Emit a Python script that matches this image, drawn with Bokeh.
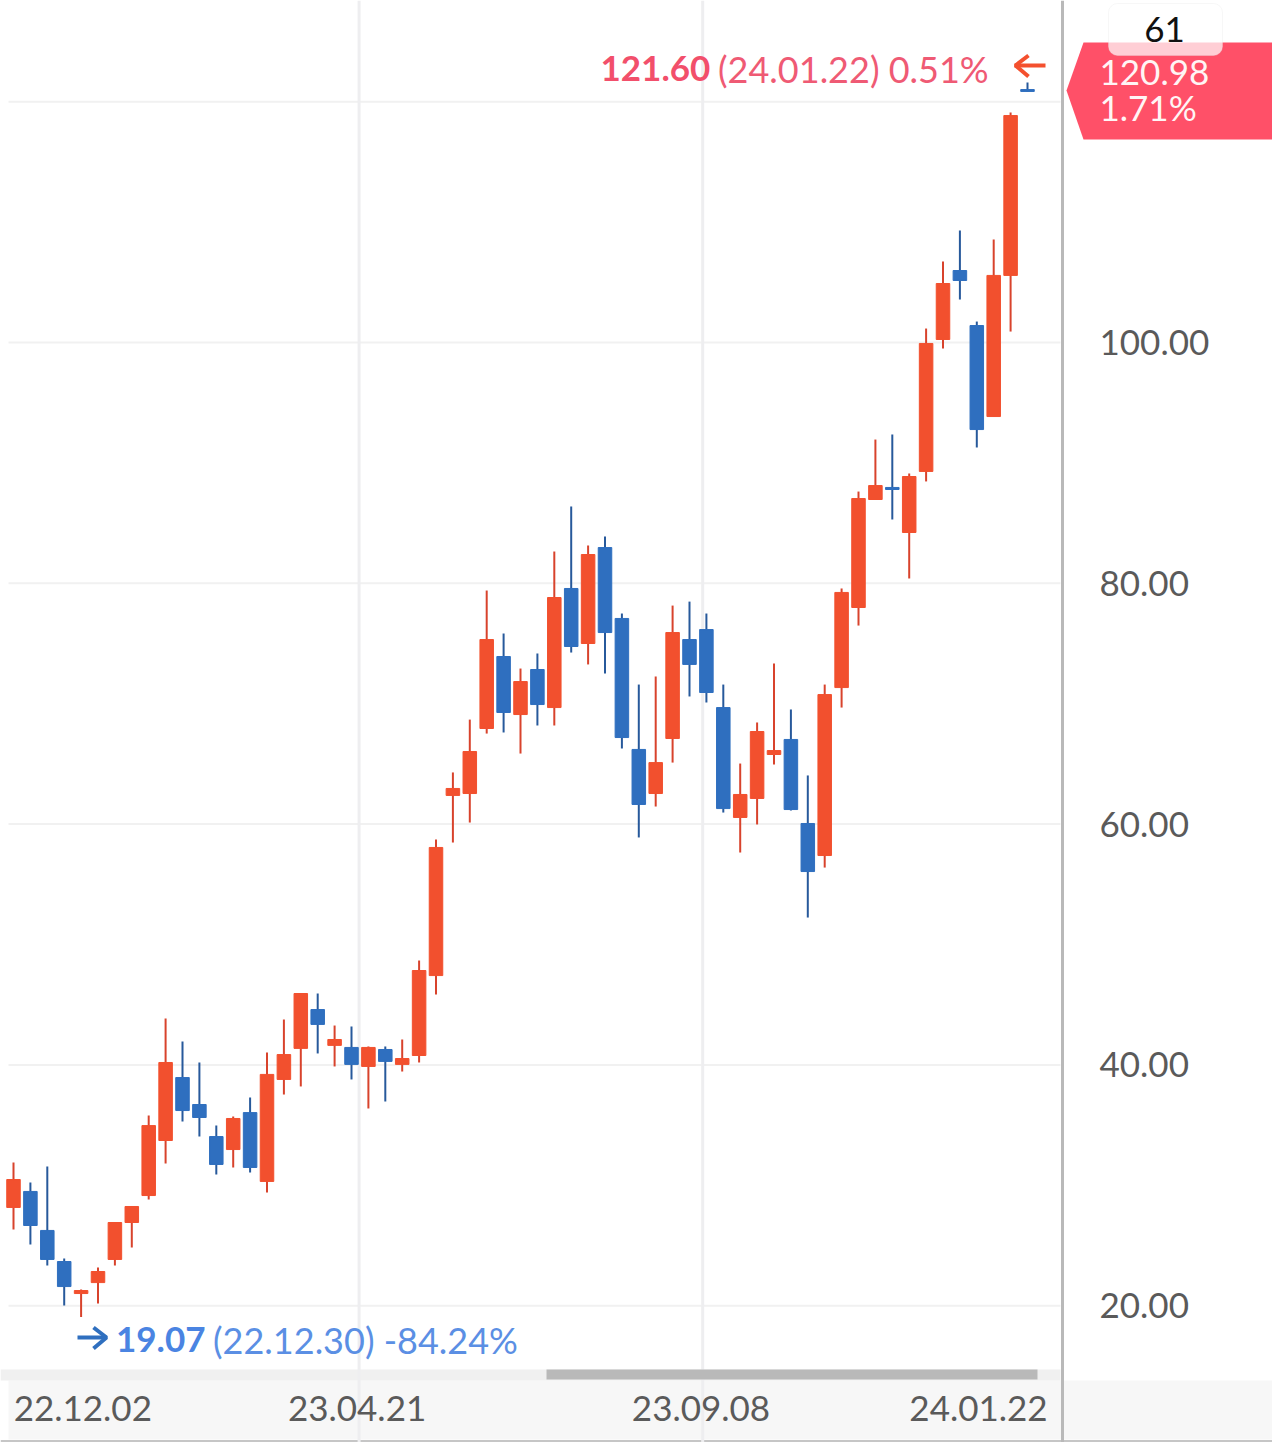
from bokeh.embed import file_html
from bokeh.resources import INLINE
from bokeh.plotting import figure
from bokeh.models import (ColumnDataSource, Label, BoxAnnotation, FixedTicker)

# ---- data ----
opens = [28.16,29.49,26.25,23.67,21.01,21.92,23.84,26.91,29.15,33.72,38.95,36.71,34.05,32.97,36.04,30.32,
         38.79,41.37,44.60,41.62,41.45,39.87,41.28,40.04,40.78,47.42,62.38,62.54,67.94,73.92,69.10,72.84,
         69.68,79.57,75.00,82.97,77.08,66.20,62.54,67.11,75.33,76.16,69.68,60.55,62.13,65.78,67.03,60.05,
         57.39,71.34,77.99,86.96,87.96,84.22,89.29,100.25,105.98,101.41,93.85,105.57,121.01]
highs = [31.90,30.23,31.56,23.92,21.34,23.17,26.95,28.24,35.79,43.85,41.94,40.20,34.96,35.71,37.29,41.03,
         43.77,45.93,45.93,43.27,43.19,41.53,41.53,42.11,48.67,58.72,64.29,68.68,79.40,75.83,72.92,74.17,
         82.64,86.38,83.14,83.89,77.49,71.59,72.26,78.15,78.48,77.49,71.59,65.03,68.44,73.34,69.52,64.04,
         71.59,79.57,87.62,91.94,92.36,89.12,101.16,106.73,109.30,101.74,108.55,119.10,121.60]
lows = [26.33,25.09,23.34,20.01,19.07,20.18,23.34,24.84,28.82,31.81,35.30,34.05,30.90,31.48,31.07,29.40,
        37.54,38.21,40.95,39.87,38.79,36.38,36.96,39.45,40.20,45.85,58.47,60.13,67.52,67.61,65.86,68.19,
        68.19,74.25,73.26,72.51,66.28,58.89,61.46,65.11,70.60,70.10,60.96,57.64,59.97,64.95,61.13,52.24,
        56.39,69.68,76.49,86.96,85.30,80.40,88.46,99.50,103.57,91.28,93.85,100.91,120.85]
closes = [30.48,26.66,23.84,21.59,21.26,22.84,26.91,28.24,34.96,40.20,36.21,35.63,31.73,35.55,31.48,39.21,
          40.86,45.93,43.36,42.11,40.04,41.45,40.29,40.53,47.84,58.06,62.96,66.03,75.33,69.27,71.84,69.93,
          78.82,74.75,82.39,75.91,67.19,61.63,65.11,75.91,73.26,70.93,61.29,62.46,67.69,66.11,61.21,56.06,
          70.76,79.24,87.04,88.12,87.79,88.87,99.92,104.90,105.15,92.77,105.57,118.85,120.85]
price_ticks = [20, 40, 60, 80, 100, 120]
price_labels = ["20.00", "40.00", "60.00", "80.00", "100.00"]
date_ticks = [4.1, 20.33, 40.68, 57.1]
date_labels = ["22.12.02", "23.04.21", "23.09.08", "24.01.22"]
vlines = [20.45, 40.78]

RED, BLUE = "#f2502e", "#2f6fbf"
RED_W, BLUE_W = "#d8432c", "#27599b"
FONT = "Lato"
W, H = 1272, 1442

# picture pixel <-> data helpers, for furniture only
def X(px): return (px - 13) / 16.9
def Y(py): return 100 + (342 - py) / 12.04

p = figure(width=W, height=H, output_backend="svg", toolbar_location=None,
           x_range=(X(0), X(W)), y_range=(Y(H), Y(0)),
           y_axis_location="right", x_axis_location="below",
           min_border=0, min_border_left=0, min_border_right=0, min_border_top=0, min_border_bottom=0,
           outline_line_color=None, background_fill_color="white", border_fill_color="white")
p.grid.visible = False

# bottom strip
p.quad(left=X(8), right=X(W), bottom=Y(1439), top=Y(1380), fill_color="#f7f7f7", line_color=None)
p.quad(left=X(0), right=X(1060), bottom=Y(1380), top=Y(1369), fill_color="#f0f0f0", line_color=None)
p.segment(x0=X(0), x1=X(W), y0=Y(1441), y1=Y(1441), line_color="#c6c6c6", line_width=3)

# grid
for t in price_ticks:
    p.segment(x0=X(8), x1=X(1060), y0=t, y1=t, line_color="#f1f1f1", line_width=2)
for v in vlines:
    p.segment(x0=v, x1=v, y0=Y(0), y1=Y(H), line_color="#eeeef0", line_width=3)

# scrollbar thumb
p.quad(left=X(546), right=X(1037), bottom=Y(1379), top=Y(1369), fill_color="#b9b9b9", line_color=None)

# candles
up = [c > o for o, c in zip(opens, closes)]
src = ColumnDataSource(dict(
    x=list(range(len(opens))),
    high=highs, low=lows,
    top=[max(o, c) for o, c in zip(opens, closes)],
    bottom=[min(o, c) for o, c in zip(opens, closes)],
    body=[RED if u else BLUE for u in up],
    wick=[RED_W if u else BLUE_W for u in up],
))
p.segment(x0="x", x1="x", y0="low", y1="high", line_color="wick", line_width=2, source=src)
p.vbar(x="x", width=0.8, top="top", bottom="bottom", fill_color="body", line_color="body", line_width=1, source=src)

# arrows
p.multi_line(xs=[[X(1014), X(1045)], [X(1028), X(1015), X(1028)]],
             ys=[[Y(65), Y(65)], [Y(55), Y(65), Y(76)]], line_color="#f4502e", line_width=4)
p.multi_line(xs=[[X(77), X(106)], [X(93), X(106), X(93)]],
             ys=[[Y(1337), Y(1337)], [Y(1327), Y(1337), Y(1348)]], line_color="#2f6fbf", line_width=4)

# price tag
p.patch(x=[X(1066), X(1083), X(W), X(W), X(1083)],
        y=[Y(90), Y(42), Y(42), Y(139), Y(139)], fill_color="#ff5068", line_color=None)

def txt(x, y, s, color, size=36, bold=False, align="left"):
    p.add_layout(Label(x=X(x), y=Y(y), text=s, text_color=color, text_font=FONT,
                       text_font_size=f"{size}px", text_font_style="bold" if bold else "normal",
                       text_baseline="middle", text_align=align))

txt(1099, 72, "120.98", "#fff5f5", size=35)
txt(1099, 106, "1.71%", "#fff5f5", size=35)
p.add_layout(BoxAnnotation(left=X(1108), right=X(1222), top=Y(3), bottom=Y(55),
                           fill_color="white", fill_alpha=0.72, line_color="#e6e6e6",
                           line_width=1, border_radius=9))
txt(1164, 29, "61", "#111111", size=35, align="center")

txt(600, 68, "121.60", "#f24f6b", size=35, bold=True)
txt(717.5, 68, "(24.01.22) 0.51%", "#ef5a74")
txt(115.5, 1339, "19.07", "#4a84e2", size=35, bold=True)
txt(212.5, 1339, "(22.12.30) -84.24%", "#5b8fe4")

# axes
ya = p.yaxis[0]
ya.fixed_location = X(1062)
ya.ticker = FixedTicker(ticks=price_ticks[:-1])
ya.major_label_overrides = {t: l for t, l in zip(price_ticks, price_labels)}
ya.axis_line_color = "#b9b9b9"
ya.axis_line_width = 3
ya.major_tick_line_color = None
ya.minor_tick_line_color = None
ya.major_label_standoff = 31
ya.major_label_text_font = FONT
ya.major_label_text_font_size = "35px"
ya.major_label_text_color = "#5a5a5a"

xa = p.xaxis[0]
xa.fixed_location = Y(1385)
xa.ticker = FixedTicker(ticks=date_ticks)
xa.major_label_overrides = {t: l for t, l in zip(date_ticks, date_labels)}
xa.axis_line_color = None
xa.major_tick_line_color = None
xa.minor_tick_line_color = None
xa.major_label_standoff = 4
xa.major_label_text_font = FONT
xa.major_label_text_font_size = "35px"
xa.major_label_text_color = "#5a5a5a"

open("out.html", "w").write(file_html(p, INLINE))
